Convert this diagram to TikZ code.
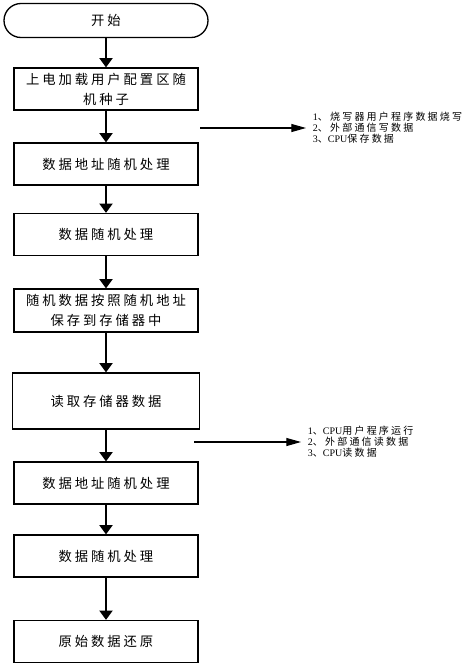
\documentclass[tikz,border=0pt]{standalone}
\usepackage{fontspec}
\newfontfamily\cjk{Noto Sans CJK SC}[LetterSpace=22]
\newfontfamily\lat{Liberation Serif}
\usetikzlibrary{arrows.meta}

\begin{document}
\begin{tikzpicture}[x=0.75pt,y=-0.75pt,
  box/.style={draw=black,line width=1pt,minimum width=138pt,minimum height=31.5pt,inner sep=0pt,align=center,font=\cjk\fontsize{10}{15}\selectfont},
  flow/.style={draw=black,line width=1pt,-{Triangle[length=7pt,width=10pt]}},
  side/.style={draw=black,line width=0.8pt,-{Triangle[length=11pt,width=6pt]}},
  note/.style={anchor=west,align=left,inner xsep=5pt,inner ysep=0pt,font=\cjk\fontsize{7.5}{8.2}\selectfont}]

\useasboundingbox (0,0) rectangle (474,665);

%start
\node[box,minimum width=153pt,minimum height=25.5pt,rounded corners=12.75pt] (start) at (106,20.5) {开始};

%boxes
\node[box] (b1) at (106,89) {上电加载用户配置区随\\机种子};
\node[box] (b2) at (106,164) {数据地址随机处理};
\node[box] (b3) at (106,234.5) {数据随机处理};
\node[box,minimum height=32.25pt] (b4) at (106,310.5) {随机数据按照随机地址\\保存到存储器中};
\node[box,minimum width=140pt,minimum height=42pt] (b5) at (106,401) {读取存储器数据};
\node[box] (b6) at (106,483) {数据地址随机处理};
\node[box] (b7) at (106,556) {数据随机处理};
\node[box] (b8) at (106,641.5) {原始数据还原};

\path[flow] (start) -- (b1);
\path[flow] (b1) -- (b2);
\path[flow] (b2) -- (b3);
\path[flow] (b3) -- (b4);
\path[flow] (b4) -- (b5);
\path[flow] (b5) -- (b6);
\path[flow] (b6) -- (b7);
\path[flow] (b7) -- (b8);

%write
\node[note] (n1) at (306,128) {{\lat 1}、烧写器用户程序数据烧写\\{\lat 2}、外部通信写数据\\{\lat 3}、{\lat CPU}保存数据};
\coordinate (s1) at (200,128);
\path[side] (s1) -- (n1.west);

%read
\node[note] (n2) at (301,442) {{\lat 1}、{\lat CPU}用户程序运行\\{\lat 2}、外部通信读数据\\{\lat 3}、{\lat CPU}读数据};
\coordinate (s2) at (194,442);
\path[side] (s2) -- (n2.west);

\end{tikzpicture}
\end{document}
